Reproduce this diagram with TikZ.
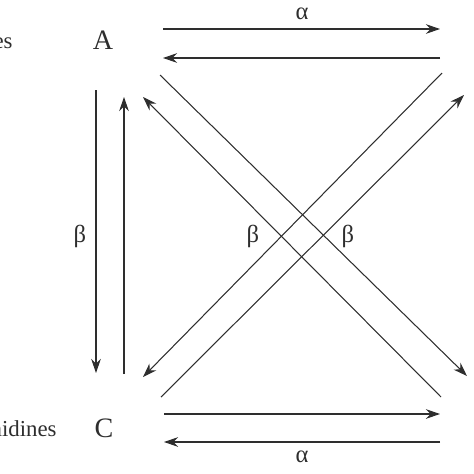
\documentclass[tikz,border=0pt]{standalone}
\usepackage{fontspec}
\setmainfont{Liberation Serif}
\usetikzlibrary{arrows.meta}

\begin{document}
\begin{tikzpicture}[x=0.02cm, y=-0.02cm, line width=.6pt, color=black!82,
        flecha/.style={-{Stealth[length=8pt,width=5.5pt]}},
        letra/.style={font=\fontsize{16}{16}\selectfont, anchor=base},
        etiq/.style={font=\fontsize{13}{13}\selectfont, anchor=base east},
        griega/.style={font=\fontsize{14}{14}\selectfont}]
        \useasboundingbox (0,0) rectangle (474,474);

        \node[letra] (A) at (103,49) {A};
        \node[letra] (C) at (104,437) {C};
        \node[etiq] (purinas) at (19,48) {es};
        \node[etiq] (pirimidinas) at (63,436) {midines};

        % extremos de las flechas
        \coordinate (h1i) at (163,29);  \coordinate (h1f) at (440,29);
        \coordinate (h2i) at (440,58);  \coordinate (h2f) at (163,58);
        \coordinate (h3i) at (164,414); \coordinate (h3f) at (440,414);
        \coordinate (h4i) at (440,442); \coordinate (h4f) at (164,442);
        \coordinate (v1i) at (96,90);   \coordinate (v1f) at (96,373);
        \coordinate (v2i) at (124,374); \coordinate (v2f) at (124,97);
        \coordinate (d1i) at (160,75);  \coordinate (d1f) at (467,376);
        \coordinate (d2i) at (441,397); \coordinate (d2f) at (143,97);
        \coordinate (d3i) at (442,73);  \coordinate (d3f) at (143,377);
        \coordinate (d4i) at (161,397); \coordinate (d4f) at (464,95);

        \foreach \ini/\fin in {h1i/h1f,h2i/h2f,h3i/h3f,h4i/h4f,v1i/v1f,v2i/v2f,d1i/d1f,d2i/d2f,d3i/d3f,d4i/d4f}
            {\draw[flecha] (\ini) -- (\fin);}

        \node[griega] (alfa1) at (302,14) {α};
        \node[griega] (alfa2) at (302,457) {α};
        \node[griega] (beta1) at (80,236) {β};
        \node[griega] (beta2) at (253,236) {β};
        \node[griega] (beta3) at (348,236) {β};
    \end{tikzpicture}
\end{document}
